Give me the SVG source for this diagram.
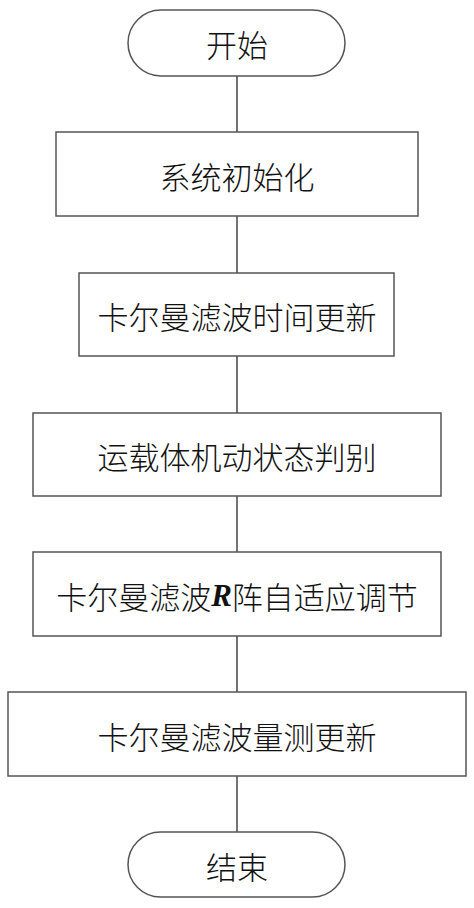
<svg xmlns="http://www.w3.org/2000/svg" width="474" height="908" viewBox="0 0 474 908">
<style>
.n{fill:#fff;stroke:#555;stroke-width:1.5}
.t{font-family:"Noto Sans CJK SC","Noto Sans",sans-serif;font-size:31px;font-weight:300;fill:#111;text-anchor:middle;dominant-baseline:central}
.c{stroke:#444;stroke-width:1.5;fill:none}
.r{font-family:"Liberation Serif",serif;font-weight:bold;font-style:italic}
</style>
<rect width="474" height="908" fill="#fff"/>
<g id="connectors">
<line class="c" x1="237" y1="76" x2="237" y2="132"/>
<line class="c" x1="237" y1="216" x2="237" y2="273"/>
<line class="c" x1="237" y1="356" x2="237" y2="413"/>
<line class="c" x1="237" y1="496" x2="237" y2="552"/>
<line class="c" x1="237" y1="636" x2="237" y2="692"/>
<line class="c" x1="237" y1="776" x2="237" y2="832"/>
</g>
<g id="start">
<rect class="n" x="128" y="10" width="217" height="66" rx="33" ry="33"/>
<text class="t" x="237" y="43">开始</text>
</g>
<g id="init">
<rect class="n" x="56" y="132" width="362" height="84"/>
<text class="t" x="237" y="175">系统初始化</text>
</g>
<g id="time-update">
<rect class="n" x="79" y="273" width="315" height="83"/>
<text class="t" x="237" y="315">卡尔曼滤波时间更新</text>
</g>
<g id="maneuver">
<rect class="n" x="33" y="413" width="408" height="83"/>
<text class="t" x="237" y="455">运载体机动状态判别</text>
</g>
<g id="r-adapt">
<rect class="n" x="33" y="552" width="408" height="84"/>
<text class="t" x="237" y="595">卡尔曼滤波<tspan class="r">R</tspan>阵自适应调节</text>
</g>
<g id="measure-update">
<rect class="n" x="8" y="692" width="458" height="84"/>
<text class="t" x="237" y="735">卡尔曼滤波量测更新</text>
</g>
<g id="end">
<rect class="n" x="128" y="832" width="217" height="65" rx="32.5" ry="32.5"/>
<text class="t" x="237" y="865">结束</text>
</g>
</svg>
